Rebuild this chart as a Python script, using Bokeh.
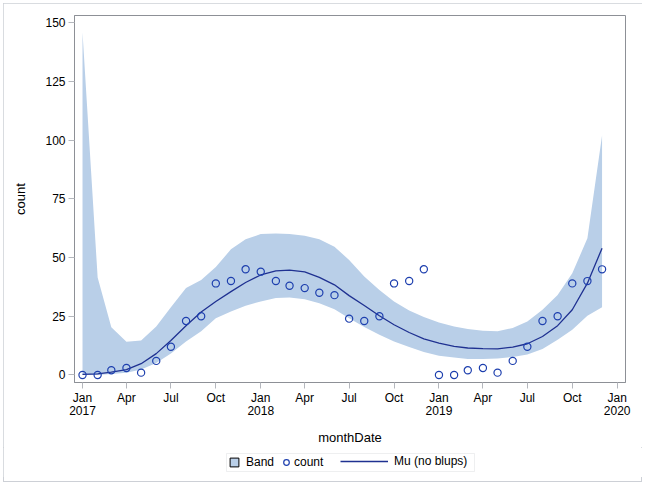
import pandas as pd
from bokeh.plotting import figure
from bokeh.layouts import column
from bokeh.models import (ColumnDataSource, FixedTicker, Range1d, Legend, LegendItem,
                          BoxAnnotation, Spacer)
from bokeh.embed import file_html
from bokeh.resources import INLINE

# ---- data ----
months = ["2017-01", "2017-02", "2017-03", "2017-04", "2017-05", "2017-06",
          "2017-07", "2017-08", "2017-09", "2017-10", "2017-11", "2017-12",
          "2018-01", "2018-02", "2018-03", "2018-04", "2018-05", "2018-06",
          "2018-07", "2018-08", "2018-09", "2018-10", "2018-11", "2018-12",
          "2019-01", "2019-02", "2019-03", "2019-04", "2019-05", "2019-06",
          "2019-07", "2019-08", "2019-09", "2019-10", "2019-11", "2019-12"]
count = [0, 0, 2, 3, 1, 6, 12, 23, 25, 39, 40, 45,
         44, 40, 38, 37, 35, 34, 24, 23, 25, 39, 40, 45,
         0, 0, 2, 3, 1, 6, 12, 23, 25, 39, 40, 45]
mu = [0.3, 0.5, 1.2, 2.3, 4.8, 9.1, 14.7, 21.0, 26.8, 31.3, 35.5, 39.4,
      42.6, 44.3, 44.7, 43.9, 41.6, 38.4, 33.8, 29.6, 25.2, 21.4, 18.1, 15.4,
      13.6, 12.2, 11.5, 11.2, 11.1, 11.9, 13.3, 16.4, 21.0, 27.8, 39.1, 54.0]
band_upper = [146, 41.5, 20.3, 14.2, 14.7, 20.7, 28.9, 37.0, 40.5, 46.0, 53.5, 57.8,
              60.0, 60.3, 60.0, 59.3, 57.8, 54.6, 49.0, 41.9, 36.2, 31.3, 27.5, 24.7,
              22.4, 20.7, 19.6, 18.8, 18.6, 20.0, 22.8, 27.8, 34.1, 43.3, 58.2, 102]
band_lower = [0, 0, 0.4, 0.9, 2.3, 5.1, 9.1, 14.3, 18.6, 24.2, 27.0, 29.5,
              31.3, 32.8, 33.0, 32.3, 30.6, 28.0, 24.2, 20.4, 17.1, 14.3, 11.9, 9.8,
              8.2, 7.4, 6.8, 6.8, 7.0, 7.7, 8.7, 11.1, 15.0, 19.3, 25.2, 28.9]
x_tick_dates = ["2017-01-01", "2017-04-01", "2017-07-01", "2017-10-01",
                "2018-01-01", "2018-04-01", "2018-07-01", "2018-10-01",
                "2019-01-01", "2019-04-01", "2019-07-01", "2019-10-01",
                "2020-01-01"]
x_tick_labels = ["Jan\n2017", "Apr", "Jul", "Oct",
                 "Jan\n2018", "Apr", "Jul", "Oct",
                 "Jan\n2019", "Apr", "Jul", "Oct",
                 "Jan\n2020"]
y_ticks = [0, 25, 50, 75, 100, 125, 150]
legend_labels = ["Band", "count", "Mu (no blups)"]

# ---- x as days since 2017-01-01 ----
origin = pd.Timestamp("2017-01-01")
xdays = [int((pd.Timestamp(m + "-01") - origin).days) for m in months]
tick_days = [int((pd.Timestamp(d) - origin).days) for d in x_tick_dates]

src = ColumnDataSource(dict(x=xdays, count=count, mu=mu,
                            upper=band_upper, lower=band_lower))

FONT = "Liberation Sans"
BAND = "#b9cfe8"
MARK = "#1d3fae"
LINE = "#1f3191"
GRAY = "#8d9096"
NAN = float("nan")

# ---------------- main plot ----------------
p = figure(width=639, height=444, output_backend="svg", toolbar_location=None,
           x_range=Range1d(-16.4, 1112), y_range=Range1d(-3.2, 153.1),
           min_border_left=71, min_border_right=17, min_border_top=12,
           min_border_bottom=64)
p.grid.visible = False
p.outline_line_color = GRAY
p.outline_line_width = 1

p.varea(x="x", y1="lower", y2="upper", source=src, fill_color=BAND)
p.line(x="x", y="mu", source=src, line_color=LINE, line_width=1.3)
p.scatter(x="x", y="count", source=src, marker="circle", size=7.2,
          fill_alpha=0, line_color=MARK, line_width=1.2)

for ax in (p.xaxis[0], p.yaxis[0]):
    ax.axis_line_color = GRAY
    ax.major_tick_line_color = "#b4b7bd"
    ax.major_tick_out = 6
    ax.major_tick_in = 0
    ax.minor_tick_line_color = None
    ax.major_label_text_font = FONT
    ax.major_label_text_font_size = "12px"
    ax.major_label_text_color = "black"
    ax.axis_label_text_font = FONT
    ax.axis_label_text_font_size = "13px"
    ax.axis_label_text_font_style = "normal"
    ax.axis_label_text_color = "black"

p.xaxis.ticker = FixedTicker(ticks=tick_days)
p.xaxis.major_label_overrides = {d: lab for d, lab in zip(tick_days, x_tick_labels)}
p.xaxis.major_label_text_line_height = 0.95
p.xaxis.axis_label = "monthDate"
p.xaxis.major_label_standoff = 2
p.xaxis.axis_label_standoff = 9

p.yaxis.ticker = FixedTicker(ticks=y_ticks)
p.yaxis.axis_label = "count"
p.yaxis.major_label_standoff = 3
p.yaxis.axis_label_standoff = 14

# ---------------- legend strip ----------------
lg = figure(width=639, height=30, output_backend="svg", toolbar_location=None,
            x_range=Range1d(0, 1), y_range=Range1d(0, 1),
            x_axis_location=None, y_axis_location=None, min_border=0)
lg.grid.visible = False
lg.outline_line_color = None

# legend-only keys (NaN positions: nothing is drawn in the strip itself)
k_band = lg.scatter(x=[NAN], y=[NAN], marker="square",
                    fill_color=BAND, line_color="black", line_width=1)
k_count = lg.scatter(x=[NAN], y=[NAN], marker="circle",
                     fill_alpha=0, line_color=MARK, line_width=1.2)
k_mu = lg.line(x=[NAN, NAN], y=[NAN, NAN], line_color=LINE, line_width=1.3)

# the strip's frame is aligned with the main frame (71 px from the left)
lg.add_layout(BoxAnnotation(left=152, right=400, top=6, bottom=24,
                            left_units="screen", right_units="screen",
                            top_units="screen", bottom_units="screen",
                            fill_alpha=0, line_color="#c8cace", line_width=1))

def key_legend(label, rend, x, gw, gh, standoff):
    return Legend(items=[LegendItem(label=label, renderers=[rend])],
                  orientation="horizontal", location=(x, 15 - max(gh, 12) / 2),
                  border_line_color=None, background_fill_alpha=0,
                  padding=0, spacing=0, margin=0,
                  glyph_width=gw, glyph_height=gh, label_height=12,
                  label_standoff=standoff,
                  label_text_font=FONT, label_text_font_size="12px",
                  label_text_color="black")

lg.add_layout(key_legend(legend_labels[0], k_band, 149, 22, 22, 1), "center")
lg.add_layout(key_legend(legend_labels[1], k_count, 205, 14, 14, 1), "center")
lg.add_layout(key_legend(legend_labels[2], k_mu, 266, 48, 12, 6), "center")

layout = column(p, lg, Spacer(width=639, height=5))
layout.styles = {"transform": "translate(3px, 3px)",
                 "outline": "1px solid #cdd0d6", "outline-offset": "-1px"}

open("out.html", "w").write(file_html(layout, INLINE))
